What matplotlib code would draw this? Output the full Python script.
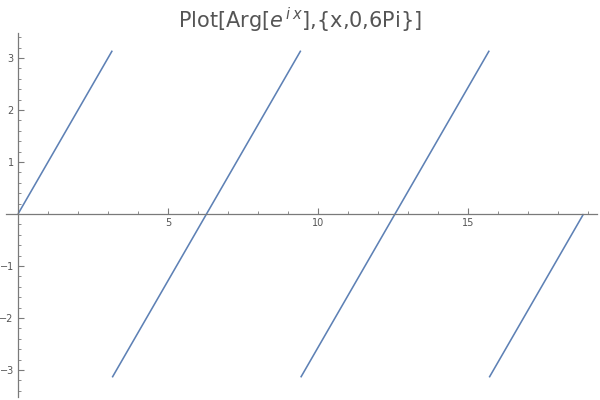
import numpy as np
import matplotlib.pyplot as plt
from matplotlib.ticker import FixedLocator

# Sawtooth segments of Arg[e^(i x)], breaks marked with nan
x_pts = [0.0, 3.1416, np.nan, 3.1416, 9.4248, np.nan, 9.4248, 15.708, np.nan, 15.708, 18.850]
y_pts = [0.0, 3.1416, np.nan, -3.1416, 3.1416, np.nan, -3.1416, 3.1416, np.nan, -3.1416, 0.0]

x_ticks = [5, 10, 15]
y_ticks = [-3, -2, -1, 1, 2, 3]
x_minor = list(range(1, 20))
y_minor = [round(v * 0.2, 1) for v in range(-17, 18)]

axis_col = '#7a7a7a'
text_col = '#555555'

fig = plt.figure(figsize=(6, 4), dpi=100)
ax = fig.add_axes([0, 0, 1, 1])
ax.patch.set_alpha(0)

ax.plot(x_pts, y_pts, color='#5e81b5', lw=1.15, solid_capstyle='butt')

# limits chosen so that origin sits at pixel (18, 214)
ax.set_xlim(-18 / 30, 582 / 30)
ax.set_ylim(-186 / 52, 214 / 52)

# Mathematica-style axes through the origin
for side in ['top', 'right']:
    ax.spines[side].set_visible(False)
ax.spines['left'].set_position(('data', 0))
ax.spines['bottom'].set_position(('data', 0))
ax.spines['left'].set_bounds(-3.52, 3.48)
ax.spines['bottom'].set_bounds(-0.4, 19.3)
for side in ['left', 'bottom']:
    ax.spines[side].set_color(axis_col)
    ax.spines[side].set_linewidth(0.9)

ax.xaxis.set_major_locator(FixedLocator(x_ticks))
ax.yaxis.set_major_locator(FixedLocator(y_ticks))
ax.xaxis.set_minor_locator(FixedLocator(x_minor))
ax.yaxis.set_minor_locator(FixedLocator(y_minor))

ax.tick_params(axis='x', which='major', direction='in', length=4, width=0.8,
               color=axis_col, labelsize=7, labelcolor=text_col, pad=3)
ax.tick_params(axis='x', which='minor', direction='in', length=2.5, width=0.6, color=axis_col)
ax.tick_params(axis='y', which='major', direction='in', length=4, width=0.8,
               color=axis_col, labelsize=7, labelcolor=text_col, pad=3)
ax.tick_params(axis='y', which='minor', direction='in', length=2.5, width=0.6, color=axis_col)

fig.text(0.5, 1 - 20 / 400, r'Plot[Arg[$e^{\,i\,x}$],{x,0,6Pi}]', color=text_col,
         fontsize=15, ha='center', va='center')

fig.savefig('out.png', dpi=100)
